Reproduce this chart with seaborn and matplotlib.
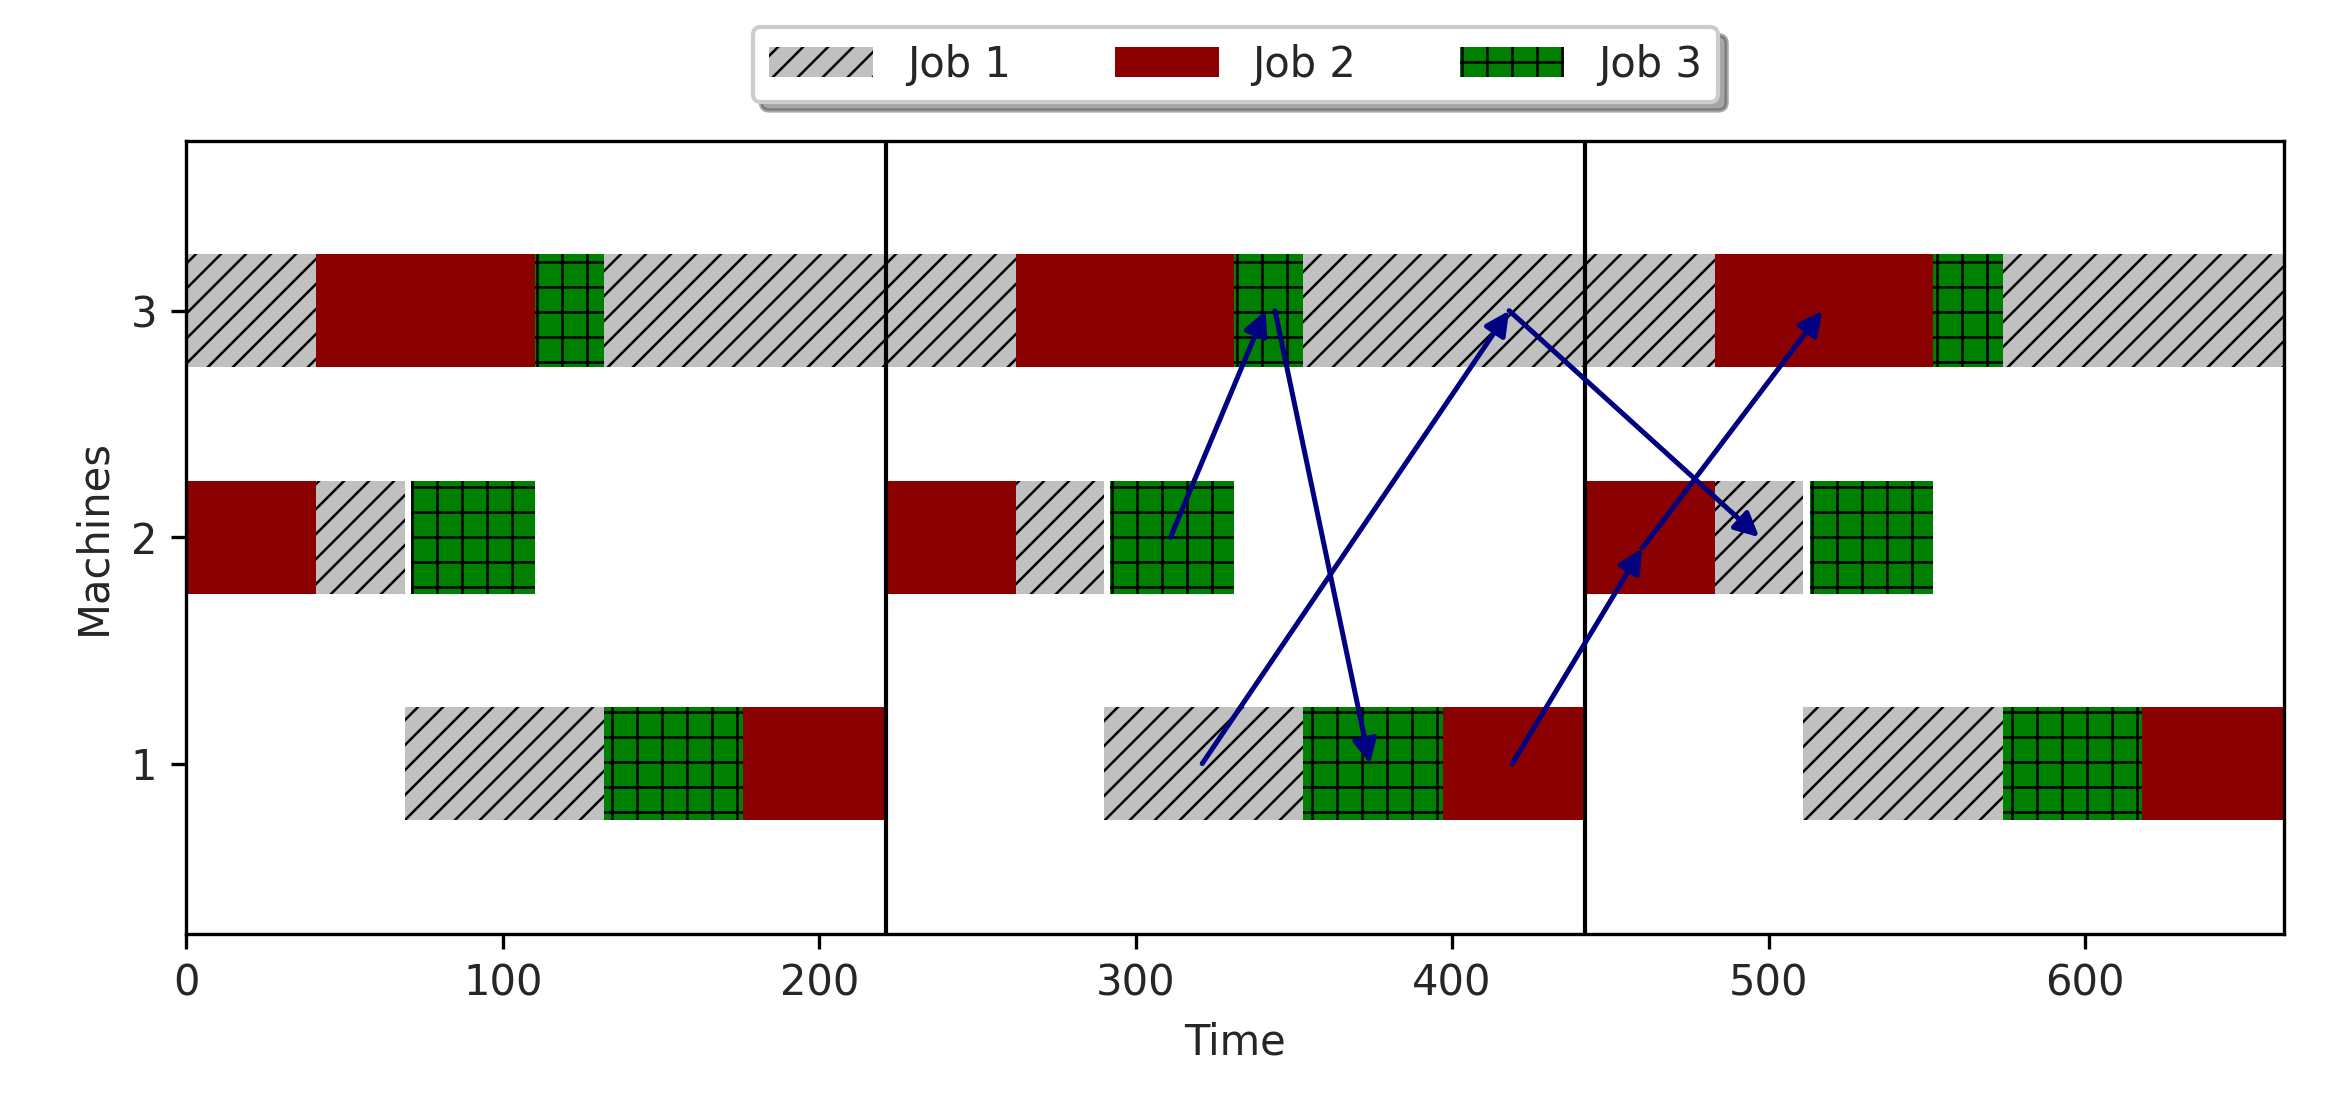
import matplotlib
matplotlib.use("Agg")
import matplotlib.pyplot as plt
import seaborn as sns

sns.set_theme(style="ticks", rc={"axes.grid": False})
plt.rcParams['font.family'] = ['DejaVu Sans']
plt.rcParams['hatch.linewidth'] = 0.6

period = 221
n_periods = 3
jobs = ["Job 1", "Job 2", "Job 3"]
colors = {"Job 1": "silver", "Job 2": "darkred", "Job 3": "green"}
hatches = {"Job 1": "////", "Job 2": "", "Job 3": "++"}
# (machine, job, start, end) within one period
ops_machine = [3, 3, 3, 3, 2, 2, 2, 1, 1, 1]
ops_job = ["Job 1", "Job 2", "Job 3", "Job 1", "Job 2", "Job 1", "Job 3", "Job 1", "Job 3", "Job 2"]
ops_start = [0, 41, 110, 132, 0, 41, 71, 69, 132, 176]
ops_end = [41, 110, 132, 221, 41, 69, 110, 132, 176, 221]
# arrows: (x0, y0, x1, y1)
arrow_x0 = [311, 344, 321, 418, 419, 460]
arrow_y0 = [2, 3, 1, 3, 1, 1.95]
arrow_x1 = [341, 374, 418, 497, 460, 517]
arrow_y1 = [3, 1, 3, 2, 1.95, 3]

fig, ax = plt.subplots(figsize=(7.77, 3.727), dpi=300)
fig.subplots_adjust(left=0.080, right=0.980, top=0.874, bottom=0.165)

seen = set()
for p in range(n_periods):
    off = p * period
    for m, j, s, e in zip(ops_machine, ops_job, ops_start, ops_end):
        lab = j if j not in seen else None
        seen.add(j)
        ax.barh(m, e - s, left=s + off, height=0.5, color=colors[j],
                hatch=hatches[j], edgecolor="black", linewidth=0, label=lab)
for p in range(1, n_periods):
    ax.axvline(p * period, color="black", lw=1)

for x0, y0, x1, y1 in zip(arrow_x0, arrow_y0, arrow_x1, arrow_y1):
    ax.annotate("", xy=(x1, y1), xytext=(x0, y0),
                arrowprops=dict(arrowstyle="-|>", color="navy", lw=1.2,
                                mutation_scale=12, shrinkA=0, shrinkB=0))

ax.set_xlim(0, period * n_periods)
ax.set_ylim(0.25, 3.75)
ax.set_yticks([1, 2, 3])
ax.set_xticks([0, 100, 200, 300, 400, 500, 600])
ax.tick_params(labelsize=10, length=3.5, width=0.8, color="black")
for sp in ax.spines.values():
    sp.set_color("black")
    sp.set_linewidth(0.8)
ax.set_xlabel("Time", fontsize=10)
ax.set_ylabel("Machines", fontsize=10)
ax.legend(loc="upper center", bbox_to_anchor=(0.5, 1.17), ncol=3,
          fancybox=True, shadow=True, fontsize=10, edgecolor="#cccccc",
          framealpha=1, handlelength=2.5, columnspacing=2.5)
fig.savefig("out.png", dpi=300)
